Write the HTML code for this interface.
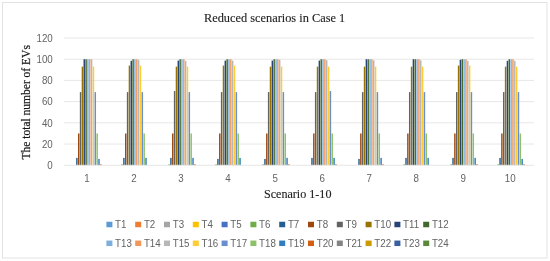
<!DOCTYPE html>
<html><head><meta charset="utf-8"><title>Reduced scenarios in Case 1</title><style>
html,body{margin:0;padding:0;background:#fff;}
body{width:550px;height:261px;overflow:hidden;position:relative;}
svg{position:absolute;left:0;top:0;display:block;}
.sans{font-family:"Liberation Sans",Arial,sans-serif;font-size:10.6px;fill:#636363;}
.serif{font-family:"Liberation Serif","Times New Roman",serif;fill:#222;stroke:#222;stroke-width:0.12px;}
</style></head><body>
<svg width="550" height="261" viewBox="0 0 550 261">
<rect x="2.5" y="2.5" width="544.5" height="255.5" fill="#fff" stroke="#E3E3E3" stroke-width="1"/>
<text class="serif" x="274.6" y="21.8" font-size="12.35" text-anchor="middle">Reduced scenarios in Case 1</text>
<rect x="64" y="37.50" width="470" height="1" fill="#E7E7E7"/><rect x="64" y="58.70" width="470" height="1" fill="#E7E7E7"/><rect x="64" y="79.90" width="470" height="1" fill="#E7E7E7"/><rect x="64" y="101.10" width="470" height="1" fill="#E7E7E7"/><rect x="64" y="122.30" width="470" height="1" fill="#E7E7E7"/><rect x="64" y="143.55" width="470" height="1" fill="#E7E7E7"/>
<rect x="76.148" y="157.874" width="1.451" height="7.426" fill="#255E91"/><rect x="77.991" y="133.475" width="1.451" height="31.825" fill="#9E480E"/><rect x="79.834" y="92.102" width="1.451" height="73.198" fill="#636363"/><rect x="81.677" y="66.642" width="1.451" height="98.658" fill="#997300"/><rect x="83.520" y="59.217" width="1.451" height="106.083" fill="#264478"/><rect x="85.363" y="59.217" width="1.451" height="106.083" fill="#43682B"/><rect x="87.206" y="59.217" width="1.451" height="106.083" fill="#7CAFDD"/><rect x="89.049" y="59.217" width="1.451" height="106.083" fill="#F1975A"/><rect x="90.892" y="59.217" width="1.451" height="106.083" fill="#B7B7B7"/><rect x="92.735" y="66.642" width="1.451" height="98.658" fill="#FFCD33"/><rect x="94.578" y="92.102" width="1.451" height="73.198" fill="#698ED0"/><rect x="96.421" y="133.475" width="1.451" height="31.825" fill="#8CC168"/><rect x="98.264" y="158.935" width="1.451" height="6.365" fill="#327DC2"/><rect x="100.107" y="164.239" width="1.451" height="1.061" fill="#D26012"/><rect x="121.324" y="164.239" width="1.451" height="1.061" fill="#70AD47"/><rect x="123.168" y="157.874" width="1.451" height="7.426" fill="#255E91"/><rect x="125.011" y="133.475" width="1.451" height="31.825" fill="#9E480E"/><rect x="126.854" y="92.102" width="1.451" height="73.198" fill="#636363"/><rect x="128.697" y="65.582" width="1.451" height="99.718" fill="#997300"/><rect x="130.540" y="60.808" width="1.451" height="104.492" fill="#264478"/><rect x="132.383" y="59.217" width="1.451" height="106.083" fill="#43682B"/><rect x="134.226" y="59.217" width="1.451" height="106.083" fill="#7CAFDD"/><rect x="136.069" y="59.217" width="1.451" height="106.083" fill="#F1975A"/><rect x="137.912" y="59.747" width="1.451" height="105.553" fill="#B7B7B7"/><rect x="139.755" y="65.582" width="1.451" height="99.718" fill="#FFCD33"/><rect x="141.598" y="92.102" width="1.451" height="73.198" fill="#698ED0"/><rect x="143.441" y="133.475" width="1.451" height="31.825" fill="#8CC168"/><rect x="145.284" y="157.874" width="1.451" height="7.426" fill="#327DC2"/><rect x="168.344" y="164.239" width="1.451" height="1.061" fill="#70AD47"/><rect x="170.188" y="157.874" width="1.451" height="7.426" fill="#255E91"/><rect x="172.031" y="133.475" width="1.451" height="31.825" fill="#9E480E"/><rect x="173.874" y="91.042" width="1.451" height="74.258" fill="#636363"/><rect x="175.717" y="66.642" width="1.451" height="98.658" fill="#997300"/><rect x="177.560" y="60.596" width="1.451" height="104.704" fill="#264478"/><rect x="179.403" y="59.217" width="1.451" height="106.083" fill="#43682B"/><rect x="181.246" y="59.217" width="1.451" height="106.083" fill="#7CAFDD"/><rect x="183.089" y="59.217" width="1.451" height="106.083" fill="#F1975A"/><rect x="184.932" y="60.808" width="1.451" height="104.492" fill="#B7B7B7"/><rect x="186.775" y="66.642" width="1.451" height="98.658" fill="#FFCD33"/><rect x="188.618" y="92.102" width="1.451" height="73.198" fill="#698ED0"/><rect x="190.461" y="133.475" width="1.451" height="31.825" fill="#8CC168"/><rect x="192.304" y="157.874" width="1.451" height="7.426" fill="#327DC2"/><rect x="194.147" y="164.239" width="1.451" height="1.061" fill="#D26012"/><rect x="215.364" y="164.239" width="1.451" height="1.061" fill="#70AD47"/><rect x="217.208" y="158.935" width="1.451" height="6.365" fill="#255E91"/><rect x="219.051" y="133.475" width="1.451" height="31.825" fill="#9E480E"/><rect x="220.894" y="92.102" width="1.451" height="73.198" fill="#636363"/><rect x="222.737" y="65.582" width="1.451" height="99.718" fill="#997300"/><rect x="224.580" y="60.596" width="1.451" height="104.704" fill="#264478"/><rect x="226.423" y="59.217" width="1.451" height="106.083" fill="#43682B"/><rect x="228.266" y="59.217" width="1.451" height="106.083" fill="#7CAFDD"/><rect x="230.109" y="59.217" width="1.451" height="106.083" fill="#F1975A"/><rect x="231.952" y="60.596" width="1.451" height="104.704" fill="#B7B7B7"/><rect x="233.795" y="65.582" width="1.451" height="99.718" fill="#FFCD33"/><rect x="235.638" y="92.102" width="1.451" height="73.198" fill="#698ED0"/><rect x="237.481" y="133.475" width="1.451" height="31.825" fill="#8CC168"/><rect x="239.324" y="157.874" width="1.451" height="7.426" fill="#327DC2"/><rect x="262.384" y="164.239" width="1.451" height="1.061" fill="#70AD47"/><rect x="264.228" y="158.935" width="1.451" height="6.365" fill="#255E91"/><rect x="266.071" y="133.475" width="1.451" height="31.825" fill="#9E480E"/><rect x="267.914" y="92.102" width="1.451" height="73.198" fill="#636363"/><rect x="269.757" y="66.642" width="1.451" height="98.658" fill="#997300"/><rect x="271.600" y="60.596" width="1.451" height="104.704" fill="#264478"/><rect x="273.443" y="59.217" width="1.451" height="106.083" fill="#43682B"/><rect x="275.286" y="59.217" width="1.451" height="106.083" fill="#7CAFDD"/><rect x="277.129" y="59.217" width="1.451" height="106.083" fill="#F1975A"/><rect x="278.972" y="59.747" width="1.451" height="105.553" fill="#B7B7B7"/><rect x="280.815" y="66.642" width="1.451" height="98.658" fill="#FFCD33"/><rect x="282.658" y="92.102" width="1.451" height="73.198" fill="#698ED0"/><rect x="284.501" y="133.475" width="1.451" height="31.825" fill="#8CC168"/><rect x="286.344" y="157.874" width="1.451" height="7.426" fill="#327DC2"/><rect x="288.187" y="164.239" width="1.451" height="1.061" fill="#D26012"/><rect x="311.248" y="157.874" width="1.451" height="7.426" fill="#255E91"/><rect x="313.091" y="133.475" width="1.451" height="31.825" fill="#9E480E"/><rect x="314.934" y="92.102" width="1.451" height="73.198" fill="#636363"/><rect x="316.777" y="66.642" width="1.451" height="98.658" fill="#997300"/><rect x="318.620" y="60.596" width="1.451" height="104.704" fill="#264478"/><rect x="320.463" y="59.217" width="1.451" height="106.083" fill="#43682B"/><rect x="322.306" y="59.217" width="1.451" height="106.083" fill="#7CAFDD"/><rect x="324.149" y="59.217" width="1.451" height="106.083" fill="#F1975A"/><rect x="325.992" y="60.277" width="1.451" height="105.023" fill="#B7B7B7"/><rect x="327.835" y="66.642" width="1.451" height="98.658" fill="#FFCD33"/><rect x="329.678" y="91.042" width="1.451" height="74.258" fill="#698ED0"/><rect x="331.521" y="133.475" width="1.451" height="31.825" fill="#8CC168"/><rect x="333.364" y="157.874" width="1.451" height="7.426" fill="#327DC2"/><rect x="335.207" y="164.239" width="1.451" height="1.061" fill="#D26012"/><rect x="358.268" y="158.935" width="1.451" height="6.365" fill="#255E91"/><rect x="360.111" y="133.475" width="1.451" height="31.825" fill="#9E480E"/><rect x="361.954" y="92.102" width="1.451" height="73.198" fill="#636363"/><rect x="363.797" y="66.642" width="1.451" height="98.658" fill="#997300"/><rect x="365.640" y="59.217" width="1.451" height="106.083" fill="#264478"/><rect x="367.483" y="59.217" width="1.451" height="106.083" fill="#43682B"/><rect x="369.326" y="59.217" width="1.451" height="106.083" fill="#7CAFDD"/><rect x="371.169" y="59.217" width="1.451" height="106.083" fill="#F1975A"/><rect x="373.012" y="60.277" width="1.451" height="105.023" fill="#B7B7B7"/><rect x="374.855" y="66.642" width="1.451" height="98.658" fill="#FFCD33"/><rect x="376.698" y="92.102" width="1.451" height="73.198" fill="#698ED0"/><rect x="378.541" y="133.475" width="1.451" height="31.825" fill="#8CC168"/><rect x="380.384" y="157.874" width="1.451" height="7.426" fill="#327DC2"/><rect x="382.227" y="164.239" width="1.451" height="1.061" fill="#D26012"/><rect x="403.444" y="164.239" width="1.451" height="1.061" fill="#70AD47"/><rect x="405.288" y="157.874" width="1.451" height="7.426" fill="#255E91"/><rect x="407.131" y="133.475" width="1.451" height="31.825" fill="#9E480E"/><rect x="408.974" y="92.102" width="1.451" height="73.198" fill="#636363"/><rect x="410.817" y="66.642" width="1.451" height="98.658" fill="#997300"/><rect x="412.660" y="59.217" width="1.451" height="106.083" fill="#264478"/><rect x="414.503" y="59.217" width="1.451" height="106.083" fill="#43682B"/><rect x="416.346" y="59.217" width="1.451" height="106.083" fill="#7CAFDD"/><rect x="418.189" y="59.217" width="1.451" height="106.083" fill="#F1975A"/><rect x="420.032" y="60.277" width="1.451" height="105.023" fill="#B7B7B7"/><rect x="421.875" y="66.642" width="1.451" height="98.658" fill="#FFCD33"/><rect x="423.718" y="92.102" width="1.451" height="73.198" fill="#698ED0"/><rect x="425.561" y="133.475" width="1.451" height="31.825" fill="#8CC168"/><rect x="427.404" y="157.874" width="1.451" height="7.426" fill="#327DC2"/><rect x="450.464" y="164.239" width="1.451" height="1.061" fill="#70AD47"/><rect x="452.308" y="157.874" width="1.451" height="7.426" fill="#255E91"/><rect x="454.151" y="133.475" width="1.451" height="31.825" fill="#9E480E"/><rect x="455.994" y="92.102" width="1.451" height="73.198" fill="#636363"/><rect x="457.837" y="65.582" width="1.451" height="99.718" fill="#997300"/><rect x="459.680" y="59.747" width="1.451" height="105.553" fill="#264478"/><rect x="461.523" y="59.217" width="1.451" height="106.083" fill="#43682B"/><rect x="463.366" y="59.217" width="1.451" height="106.083" fill="#7CAFDD"/><rect x="465.209" y="59.217" width="1.451" height="106.083" fill="#F1975A"/><rect x="467.052" y="60.808" width="1.451" height="104.492" fill="#B7B7B7"/><rect x="468.895" y="65.582" width="1.451" height="99.718" fill="#FFCD33"/><rect x="470.738" y="92.102" width="1.451" height="73.198" fill="#698ED0"/><rect x="472.581" y="133.475" width="1.451" height="31.825" fill="#8CC168"/><rect x="474.424" y="157.874" width="1.451" height="7.426" fill="#327DC2"/><rect x="476.267" y="164.239" width="1.451" height="1.061" fill="#D26012"/><rect x="497.484" y="164.239" width="1.451" height="1.061" fill="#70AD47"/><rect x="499.328" y="157.874" width="1.451" height="7.426" fill="#255E91"/><rect x="501.171" y="133.475" width="1.451" height="31.825" fill="#9E480E"/><rect x="503.014" y="92.102" width="1.451" height="73.198" fill="#636363"/><rect x="504.857" y="66.642" width="1.451" height="98.658" fill="#997300"/><rect x="506.700" y="60.808" width="1.451" height="104.492" fill="#264478"/><rect x="508.543" y="59.217" width="1.451" height="106.083" fill="#43682B"/><rect x="510.386" y="59.217" width="1.451" height="106.083" fill="#7CAFDD"/><rect x="512.229" y="59.217" width="1.451" height="106.083" fill="#F1975A"/><rect x="514.072" y="60.808" width="1.451" height="104.492" fill="#B7B7B7"/><rect x="515.915" y="66.642" width="1.451" height="98.658" fill="#FFCD33"/><rect x="517.758" y="92.102" width="1.451" height="73.198" fill="#698ED0"/><rect x="519.601" y="133.475" width="1.451" height="31.825" fill="#8CC168"/><rect x="521.444" y="158.935" width="1.451" height="6.365" fill="#327DC2"/><rect x="523.287" y="164.239" width="1.451" height="1.061" fill="#D26012"/>
<rect x="64" y="164.80" width="470" height="1" fill="#E7E7E7"/>
<g class="sans"><text transform="translate(52.8,169.00) scale(0.92,1)" text-anchor="end">0</text><text transform="translate(52.8,147.78) scale(0.92,1)" text-anchor="end">20</text><text transform="translate(52.8,126.57) scale(0.92,1)" text-anchor="end">40</text><text transform="translate(52.8,105.35) scale(0.92,1)" text-anchor="end">60</text><text transform="translate(52.8,84.13) scale(0.92,1)" text-anchor="end">80</text><text transform="translate(52.8,62.92) scale(0.92,1)" text-anchor="end">100</text><text transform="translate(52.8,41.70) scale(0.92,1)" text-anchor="end">120</text></g>
<g class="sans"><text transform="translate(87.01,182.0) scale(0.92,1)" text-anchor="middle">1</text><text transform="translate(134.03,182.0) scale(0.92,1)" text-anchor="middle">2</text><text transform="translate(181.05,182.0) scale(0.92,1)" text-anchor="middle">3</text><text transform="translate(228.07,182.0) scale(0.92,1)" text-anchor="middle">4</text><text transform="translate(275.09,182.0) scale(0.92,1)" text-anchor="middle">5</text><text transform="translate(322.11,182.0) scale(0.92,1)" text-anchor="middle">6</text><text transform="translate(369.13,182.0) scale(0.92,1)" text-anchor="middle">7</text><text transform="translate(416.15,182.0) scale(0.92,1)" text-anchor="middle">8</text><text transform="translate(463.17,182.0) scale(0.92,1)" text-anchor="middle">9</text><text transform="translate(510.19,182.0) scale(0.92,1)" text-anchor="middle">10</text></g>
<text class="serif" x="297.7" y="197.7" font-size="12.1" text-anchor="middle">Scenario 1-10</text>
<text class="serif" transform="translate(29.6,102.3) rotate(-90)" font-size="11.5" style="stroke-width:0.2px;fill:#151515;stroke:#151515" text-anchor="middle">The total number of EVs</text>
<g class="sans"><rect x="106.40" y="221.75" width="6" height="5.5" fill="#5B9BD5"/><text transform="translate(115.10,227.80) scale(0.92,1)">T1</text><rect x="135.20" y="221.75" width="6" height="5.5" fill="#ED7D31"/><text transform="translate(143.90,227.80) scale(0.92,1)">T2</text><rect x="164.00" y="221.75" width="6" height="5.5" fill="#A5A5A5"/><text transform="translate(172.70,227.80) scale(0.92,1)">T3</text><rect x="192.80" y="221.75" width="6" height="5.5" fill="#FFC000"/><text transform="translate(201.50,227.80) scale(0.92,1)">T4</text><rect x="221.60" y="221.75" width="6" height="5.5" fill="#4472C4"/><text transform="translate(230.30,227.80) scale(0.92,1)">T5</text><rect x="250.40" y="221.75" width="6" height="5.5" fill="#70AD47"/><text transform="translate(259.10,227.80) scale(0.92,1)">T6</text><rect x="279.20" y="221.75" width="6" height="5.5" fill="#255E91"/><text transform="translate(287.90,227.80) scale(0.92,1)">T7</text><rect x="308.00" y="221.75" width="6" height="5.5" fill="#9E480E"/><text transform="translate(316.70,227.80) scale(0.92,1)">T8</text><rect x="336.80" y="221.75" width="6" height="5.5" fill="#636363"/><text transform="translate(345.50,227.80) scale(0.92,1)">T9</text><rect x="365.60" y="221.75" width="6" height="5.5" fill="#997300"/><text transform="translate(374.30,227.80) scale(0.92,1)">T10</text><rect x="394.40" y="221.75" width="6" height="5.5" fill="#264478"/><text transform="translate(403.10,227.80) scale(0.92,1)">T11</text><rect x="423.20" y="221.75" width="6" height="5.5" fill="#43682B"/><text transform="translate(431.90,227.80) scale(0.92,1)">T12</text><rect x="106.40" y="240.55" width="6" height="5.5" fill="#7CAFDD"/><text transform="translate(115.10,246.60) scale(0.92,1)">T13</text><rect x="135.20" y="240.55" width="6" height="5.5" fill="#F1975A"/><text transform="translate(143.90,246.60) scale(0.92,1)">T14</text><rect x="164.00" y="240.55" width="6" height="5.5" fill="#B7B7B7"/><text transform="translate(172.70,246.60) scale(0.92,1)">T15</text><rect x="192.80" y="240.55" width="6" height="5.5" fill="#FFCD33"/><text transform="translate(201.50,246.60) scale(0.92,1)">T16</text><rect x="221.60" y="240.55" width="6" height="5.5" fill="#698ED0"/><text transform="translate(230.30,246.60) scale(0.92,1)">T17</text><rect x="250.40" y="240.55" width="6" height="5.5" fill="#8CC168"/><text transform="translate(259.10,246.60) scale(0.92,1)">T18</text><rect x="279.20" y="240.55" width="6" height="5.5" fill="#327DC2"/><text transform="translate(287.90,246.60) scale(0.92,1)">T19</text><rect x="308.00" y="240.55" width="6" height="5.5" fill="#D26012"/><text transform="translate(316.70,246.60) scale(0.92,1)">T20</text><rect x="336.80" y="240.55" width="6" height="5.5" fill="#848484"/><text transform="translate(345.50,246.60) scale(0.92,1)">T21</text><rect x="365.60" y="240.55" width="6" height="5.5" fill="#CC9A00"/><text transform="translate(374.30,246.60) scale(0.92,1)">T22</text><rect x="394.40" y="240.55" width="6" height="5.5" fill="#3A5FA0"/><text transform="translate(403.10,246.60) scale(0.92,1)">T23</text><rect x="423.20" y="240.55" width="6" height="5.5" fill="#5A8A39"/><text transform="translate(431.90,246.60) scale(0.92,1)">T24</text></g>
</svg>
</body></html>
